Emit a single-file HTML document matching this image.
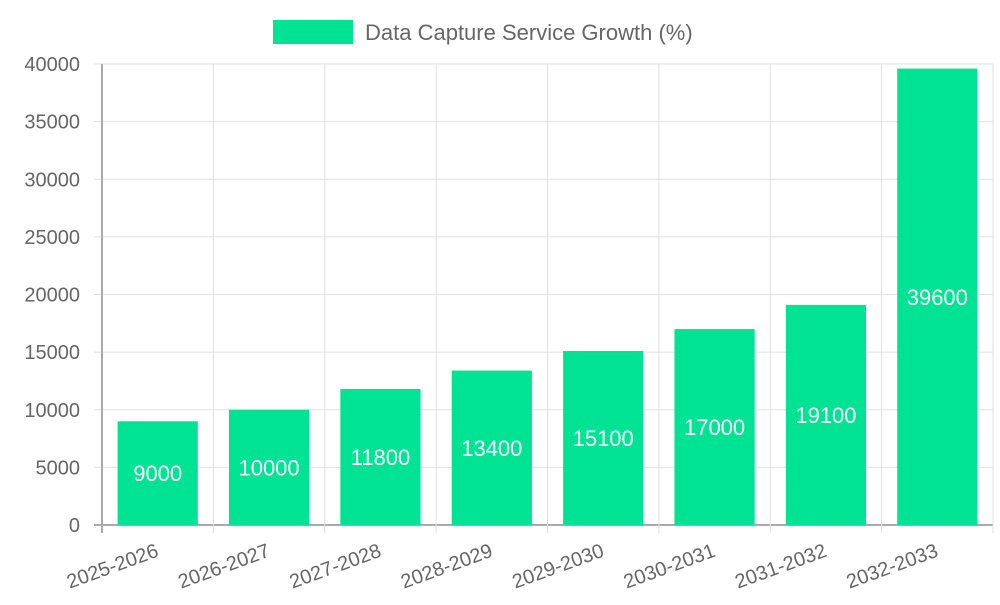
<!DOCTYPE html>
<html><head><meta charset="utf-8"><style>
body{margin:0;background:#fff;font-family:"Liberation Sans",sans-serif}
svg text{font-family:"Liberation Sans",sans-serif}
</style></head><body>
<svg id="chart" width="1000" height="600">
<rect x="273" y="20" width="80" height="24" fill="#00e394"/>
<text x="365" y="40" font-size="22" fill="#666">Data Capture Service Growth (%)</text>
<g id="grid"></g><g id="bars"></g><g id="labels"></g>
</svg>
<script>
const categories=["2025-2026","2026-2027","2027-2028","2028-2029","2029-2030","2030-2031","2031-2032","2032-2033"];
const values=[9000,10000,11800,13400,15100,17000,19100,39600];
const yTicks=[0,5000,10000,15000,20000,25000,30000,35000,40000];
const X0=102,X1=993,Y0=525,Y1=64,YMAX=40000;
const band=(X1-X0)/categories.length;
const y=v=>Y0-(v/YMAX)*(Y0-Y1);
const xc=i=>X0+band*(i+0.5);
const NS="http://www.w3.org/2000/svg";
function mk(p,t,a){const e=document.createElementNS(NS,t);for(const k in a)e.setAttribute(k,a[k]);p.appendChild(e);return e;}
const g=document.getElementById('grid'),b=document.getElementById('bars'),l=document.getElementById('labels');
yTicks.forEach(t=>{
 const ln=mk(g,'line',{x1:X0-8,x2:X1,y1:y(t),y2:y(t),stroke:t===0?'#aaa':'#e0e0e0','stroke-width':t===0?2:1});
 
 
 const tx=mk(g,'text',{x:X0-22,y:y(t)+7,'text-anchor':'end','font-size':20,fill:'#666'});
 tx.textContent=t;
 
 
});
for(let i=0;i<=categories.length;i++){
 const x=X0+band*i;
 const ln=mk(g,'line',{x1:x,x2:x,y1:Y1,y2:Y0+8,stroke:i===0?'#aaa':'#e0e0e0','stroke-width':i===0?2:1});
 
 
}
categories.forEach((c,i)=>{
 const bw=band*0.72,h=Y0-y(values[i]);
 const r=mk(b,'rect',{x:xc(i)-bw/2,y:y(values[i]),width:bw,height:h,fill:'#00e394'});
 
 
 const v=mk(l,'text',{x:xc(i),y:y(values[i]/2)+8,'text-anchor':'middle','font-size':22,fill:'#fff'});
 v.textContent=values[i];
 
 
 const cx=xc(i)+2,cy=556;
 const t=mk(l,'text',{x:cx,y:cy,'text-anchor':'end','font-size':20,fill:'#666',transform:`rotate(-20 ${cx} ${cy})`});
 t.textContent=c;
 
 
});
</script>
</body></html>
